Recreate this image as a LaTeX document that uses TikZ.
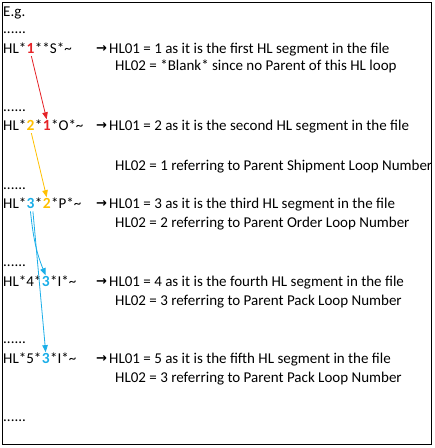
\documentclass[tikz,border=0pt]{standalone}
\usepackage{fontspec}
\setmainfont{Carlito}
\newfontfamily\arrowfont{DejaVu Sans}
\usetikzlibrary{positioning,arrows.meta}
\definecolor{hlred}{HTML}{E52227}
\definecolor{hlgold}{HTML}{FFC000}
\definecolor{hlblue}{HTML}{1BAEE8}

\begin{document}
\begin{tikzpicture}[x=1pt,y=-1pt,>={Triangle[length=7pt,width=5.5pt]},
    seg/.style={inner sep=0pt,anchor=base west,font=\fontsize{15}{18}\selectfont},
    ref/.style={seg,font=\fontsize{15.5}{18}\selectfont\bfseries},
    pointer/.style={inner sep=0pt,anchor=base west,font=\arrowfont\bfseries\fontsize{13}{15}\selectfont},
    link/.style={->,line width=0.8pt,shorten <=3pt,shorten >=0.5pt}]

                \useasboundingbox (0,0) rectangle (435,448);
                \draw[line width=1pt] (2,2) rectangle (431,444);

                \node[seg] (eg) at (3,16) {E.g.};
                \node[seg] (dots0) at (3,33) {......};

                % HL segment lines
                \node[seg] (s1a) at (3,53) {HL*};
                \node[ref, text=hlred] (s1p) [base right = 0pt of s1a] {1};
                \node[seg] (s1b) [base right = 0pt of s1p] {**S*\textasciitilde};

                \node[seg] (dots1) at (3,111) {......};
                \node[seg] (s2a) at (3,130) {HL*};
                \node[ref, text=hlgold] (s2id) [base right = 0pt of s2a] {2};
                \node[seg] (s2b) [base right = 0pt of s2id] {*};
                \node[ref, text=hlred] (s2p) [base right = 0pt of s2b] {1};
                \node[seg] (s2c) [base right = 0pt of s2p] {*O*\textasciitilde};

                \node[seg] (dots2) at (3,189) {......};
                \node[seg] (s3a) at (3,208) {HL*};
                \node[ref, text=hlblue] (s3id) [base right = 0pt of s3a] {3};
                \node[seg] (s3b) [base right = 0pt of s3id] {*};
                \node[ref, text=hlgold] (s3p) [base right = 0pt of s3b] {2};
                \node[seg] (s3c) [base right = 0pt of s3p] {*P*\textasciitilde};

                \node[seg] (dots3) at (3,266) {......};
                \node[seg] (s4a) at (3,286) {HL*4*};
                \node[ref, text=hlblue] (s4p) [base right = 0pt of s4a] {3};
                \node[seg] (s4b) [base right = 0pt of s4p] {*I*\textasciitilde};

                \node[seg] (dots4) at (3,343) {......};
                \node[seg] (s5a) at (3,363) {HL*5*};
                \node[ref, text=hlblue] (s5p) [base right = 0pt of s5a] {3};
                \node[seg] (s5b) [base right = 0pt of s5p] {*I*\textasciitilde};

                \node[seg] (dots5) at (3,421) {......};

                % explanations
                \node[pointer] (p1) at (96,52) {→};
                \node[seg] (n1a) at (109,53) {HL01 = 1 as it is the first HL segment in the file};
                \node[seg] (n1b) at (115,70) {HL02 = *Blank* since no Parent of this HL loop};

                \node[pointer] (p2) at (96,129) {→};
                \node[seg] (n2a) at (109,130) {HL01 = 2 as it is the second HL segment in the file};
                \node[seg] (n2b) at (115,170) {HL02 = 1 referring to Parent Shipment Loop Number};

                \node[pointer] (p3) at (96,207) {→};
                \node[seg] (n3a) at (109,208) {HL01 = 3 as it is the third HL segment in the file};
                \node[seg] (n3b) at (115,227) {HL02 = 2 referring to Parent Order Loop Number};

                \node[pointer] (p4) at (96,285) {→};
                \node[seg] (n4a) at (109,286) {HL01 = 4 as it is the fourth HL segment in the file};
                \node[seg] (n4b) at (115,305) {HL02 = 3 referring to Parent Pack Loop Number};

                \node[pointer] (p5) at (96,362) {→};
                \node[seg] (n5a) at (109,363) {HL01 = 5 as it is the fifth HL segment in the file};
                \node[seg] (n5b) at (115,382) {HL02 = 3 referring to Parent Pack Loop Number};

                % parent links
                \draw[link, hlred] (s1p.south) -- (s2p.north);
                \draw[link, hlgold] (s2id.south) -- (s3p.north);
                \draw[link, hlblue] ([xshift=-0.5pt]s3id.south) to[out=-84,in=112] (s4p.north);
                \draw[link, hlblue] ([xshift=2pt]s3id.south) -- (s5p.north);
            \end{tikzpicture}
\end{document}
